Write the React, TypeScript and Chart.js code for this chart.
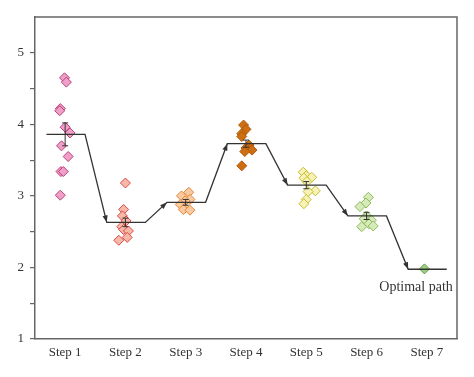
import React, { useEffect, useRef } from "react";
import { Chart, registerables } from "chart.js";
Chart.register(...registerables);

const stepLabels = ["Step 1", "Step 2", "Step 3", "Step 4", "Step 5", "Step 6", "Step 7"];
const meanValues = [3.86, 2.63, 2.91, 3.73, 3.15, 2.72, 1.975];
const errValues = [0.16, 0.06, 0.04, 0.05, 0.05, 0.05, 0];

const step1Values = [4.65, 4.59, 4.22, 4.19, 3.96, 3.88, 3.70, 3.55, 3.34, 3.34, 3.01];
const step1Jitter = [-0.01, 0.02, -0.08, -0.09, 0.0, 0.08, -0.06, 0.05, -0.07, -0.03, -0.08];
const step2Values = [3.18, 2.81, 2.72, 2.65, 2.57, 2.53, 2.51, 2.42, 2.38];
const step2Jitter = [0.0, -0.03, -0.05, 0.01, -0.06, -0.03, 0.05, 0.03, -0.11];
const step3Values = [3.05, 3.0, 2.95, 2.93, 2.88, 2.83, 2.81, 2.8];
const step3Jitter = [0.05, -0.07, 0.07, -0.01, -0.09, -0.01, -0.04, 0.07];
const step4Values = [3.99, 3.93, 3.87, 3.83, 3.71, 3.67, 3.64, 3.62, 3.42];
const step4Jitter = [-0.04, 0.0, -0.07, -0.07, 0.05, 0.0, 0.1, -0.02, -0.07];
const step5Values = [3.33, 3.28, 3.26, 3.25, 3.2, 3.07, 3.06, 2.95, 2.89];
const step5Jitter = [-0.05, 0.0, 0.09, -0.04, 0.01, 0.15, 0.03, 0.0, -0.04];
const step6Values = [2.98, 2.9, 2.85, 2.72, 2.68, 2.66, 2.61, 2.58, 2.57];
const step6Jitter = [0.03, -0.01, -0.11, 0.0, -0.04, 0.08, 0.04, 0.11, -0.08];
const step7Values = [1.98];
const step7Jitter = [-0.04];

const stepValues = [step1Values, step2Values, step3Values, step4Values, step5Values, step6Values, step7Values];
const stepJitter = [step1Jitter, step2Jitter, step3Jitter, step4Jitter, step5Jitter, step6Jitter, step7Jitter];

const fillColors = ["#ef9fc8", "#f8b8a8", "#f9caa0", "#cd6e12", "#f6f2b8", "#d6eabb", "#9ccf80"];
const borderColors = ["#b8407a", "#d84a48", "#e08838", "#b05a08", "#cbbd2c", "#8cbc58", "#5e9a48"];

const annotationText = "Optimal path";

const SERIF = "'Liberation Serif', 'DejaVu Serif', serif";
const SEG_LEFT = 0.31;
const SEG_RIGHT = 0.33;

function buildPath() {
  const pts: { x: number; y: number }[] = [];
  meanValues.forEach((m, i) => {
    pts.push({ x: i + 1 - SEG_LEFT, y: m });
    pts.push({ x: i + 1 + SEG_RIGHT, y: m });
  });
  return pts;
}

const overlayPlugin = {
  id: "overlay",
  afterDatasetsDraw(chart: any) {
    const ctx = chart.ctx;
    const xs = chart.scales.x;
    const ys = chart.scales.y;
    const area = chart.chartArea;
    ctx.save();
    ctx.strokeStyle = "#666";
    ctx.lineWidth = 1.5;
    ctx.beginPath();
    ctx.moveTo(area.left, area.top);
    ctx.lineTo(area.right, area.top);
    ctx.lineTo(area.right, area.bottom);
    ctx.stroke();
    ctx.strokeStyle = "#333";
    ctx.lineWidth = 1;
    meanValues.forEach((m, i) => {
      const e = errValues[i];
      if (!e) return;
      const x = xs.getPixelForValue(i + 1);
      const y1 = ys.getPixelForValue(m + e);
      const y2 = ys.getPixelForValue(m - e);
      ctx.beginPath();
      ctx.moveTo(x, y1);
      ctx.lineTo(x, y2);
      ctx.moveTo(x - 3, y1);
      ctx.lineTo(x + 3, y1);
      ctx.moveTo(x - 3, y2);
      ctx.lineTo(x + 3, y2);
      ctx.stroke();
    });
    ctx.fillStyle = "#333";
    for (let i = 0; i < meanValues.length - 1; i++) {
      const x0 = xs.getPixelForValue(i + 1 + SEG_RIGHT);
      const y0 = ys.getPixelForValue(meanValues[i]);
      const x1 = xs.getPixelForValue(i + 2 - SEG_LEFT);
      const y1 = ys.getPixelForValue(meanValues[i + 1]);
      const ang = Math.atan2(y1 - y0, x1 - x0);
      const L = 7, W = 2.6;
      ctx.beginPath();
      ctx.moveTo(x1, y1);
      ctx.lineTo(x1 - L * Math.cos(ang) + W * Math.sin(ang), y1 - L * Math.sin(ang) - W * Math.cos(ang));
      ctx.lineTo(x1 - L * Math.cos(ang) - W * Math.sin(ang), y1 - L * Math.sin(ang) + W * Math.cos(ang));
      ctx.closePath();
      ctx.fill();
    }
    ctx.fillStyle = "#333";
    ctx.font = "14px " + SERIF;
    ctx.textAlign = "right";
    ctx.textBaseline = "middle";
    ctx.fillText(annotationText, xs.getPixelForValue(7.43), ys.getPixelForValue(1.72));
    ctx.restore();
  },
};

export default function App() {
  const ref = useRef<HTMLCanvasElement | null>(null);
  useEffect(() => {
    if (!ref.current) return;
    const scatterSets = stepValues.map((vals, i) => ({
      type: "scatter" as const,
      label: stepLabels[i],
      data: vals.map((v, j) => ({ x: i + 1 + stepJitter[i][j], y: v })),
      pointStyle: "rectRot" as const,
      pointRadius: 5,
      pointBorderWidth: 1,
      backgroundColor: fillColors[i],
      borderColor: borderColors[i],
      order: 2,
    }));
    const chart = new Chart(ref.current, {
      type: "scatter",
      data: {
        datasets: [
          ...scatterSets,
          {
            type: "line" as const,
            label: "path",
            data: buildPath(),
            borderColor: "#333",
            borderWidth: 1.3,
            pointRadius: 0,
            fill: false,
            tension: 0,
            order: 1,
          } as any,
        ],
      },
      options: {
        animation: false,
        responsive: false,
        maintainAspectRatio: false,
        layout: { padding: { left: 0, right: 17, top: 17, bottom: 12 } },
        plugins: { legend: { display: false }, tooltip: { enabled: false } },
        scales: {
          x: {
            type: "linear",
            min: 0.5,
            max: 7.5,
            afterBuildTicks: (s: any) => {
              s.ticks = stepLabels.map((_, i) => ({ value: i + 1 }));
            },
            afterFit: (s: any) => {
              s.height = 26;
            },
            ticks: {
              callback: (v: any) => stepLabels[Math.round(Number(v)) - 1] ?? "",
              font: { family: SERIF, size: 13 },
              color: "#333",
              padding: 6,
              maxRotation: 0,
              autoSkip: false,
            },
            grid: { display: false, drawTicks: false },
            border: { display: true, color: "#666", width: 1.5 },
          },
          y: {
            type: "linear",
            min: 1,
            max: 5.5,
            afterFit: (s: any) => {
              s.width = 35;
            },
            ticks: {
              stepSize: 0.5,
              callback: (v: any) => (Number(v) % 1 === 0 ? String(v) : ""),
              font: { family: SERIF, size: 13 },
              color: "#333",
              padding: 6,
            },
            grid: {
              drawOnChartArea: false,
              drawTicks: true,
              tickLength: 5,
              color: (c: any) => (c.tick && c.tick.value === 5.5 ? "rgba(0,0,0,0)" : "#666"),
              lineWidth: 1.2,
            },
            border: { display: true, color: "#666", width: 1.5 },
          },
        },
      },
      plugins: [overlayPlugin],
    } as any);
    return () => chart.destroy();
  }, []);
  return (
    <div style={{ position: "fixed", left: 0, top: 0, width: 474, height: 377, background: "#fff" }}>
      <canvas ref={ref} width={474} height={377} style={{ width: 474, height: 377 }} />
    </div>
  );
}
